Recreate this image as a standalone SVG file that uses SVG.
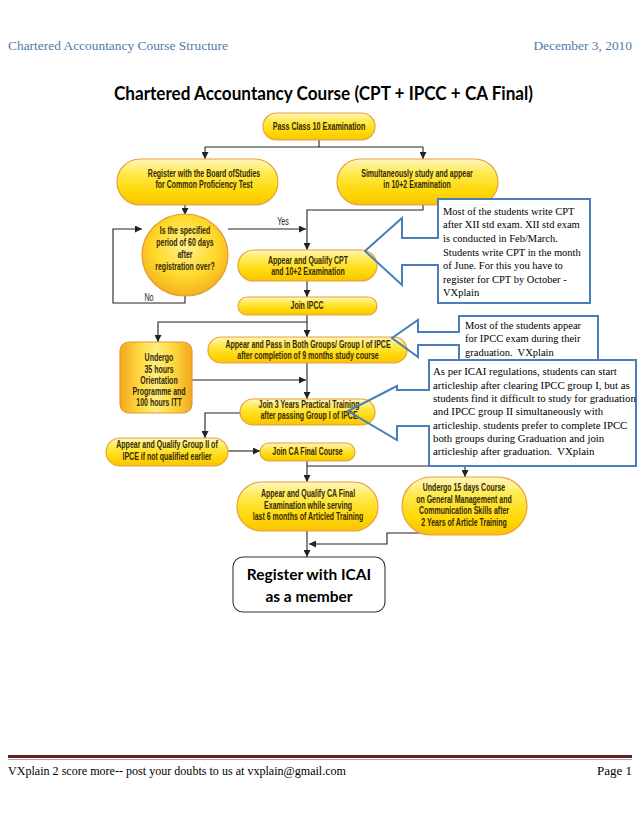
<svg xmlns="http://www.w3.org/2000/svg" width="638" height="826" viewBox="0 0 638 826">
<defs>
<linearGradient id="gy" x1="0" y1="0" x2="0" y2="1">
<stop offset="0" stop-color="#FFF6C0"/>
<stop offset="0.3" stop-color="#FFEA50"/>
<stop offset="0.75" stop-color="#FFD600"/>
<stop offset="1" stop-color="#F8C20A"/>
</linearGradient>
<radialGradient id="gc" cx="0.5" cy="0.4" r="0.6">
<stop offset="0" stop-color="#FFF090"/>
<stop offset="0.6" stop-color="#FFD92A"/>
<stop offset="1" stop-color="#F4B020"/>
</radialGradient>
<linearGradient id="gh" x1="0" y1="0" x2="1" y2="0">
<stop offset="0" stop-color="#F3A81E"/>
<stop offset="0.3" stop-color="#FFDD45"/>
<stop offset="0.5" stop-color="#FFEC80"/>
<stop offset="0.7" stop-color="#FFDD45"/>
<stop offset="1" stop-color="#F3A81E"/>
</linearGradient>
<marker id="ah" viewBox="0 0 10 10" refX="10" refY="5" markerWidth="7" markerHeight="7" markerUnits="userSpaceOnUse" orient="auto">
<path d="M0,0 L10,5 L0,10 Z" fill="#222"/>
</marker>
<style>
.nd{fill:url(#gy);stroke:#E8A040;stroke-width:1.2}
.nt{font-family:"Liberation Sans",Arial,sans-serif;font-weight:bold;font-size:10px;fill:#33290C;text-anchor:middle}
.cn{fill:none;stroke:#222;stroke-width:1.1}
.ca{fill:none;stroke:#222;stroke-width:1.1;marker-end:url(#ah)}
.co{fill:none;stroke:#4A7EBB;stroke-width:2}
.cb{fill:#fff;stroke:none}
.ct{font-family:"Liberation Serif","Times New Roman",serif;font-size:10.5px;fill:#000}
.ct3{font-family:"Liberation Serif","Times New Roman",serif;font-size:10.8px;fill:#000}
.hd{font-family:"Liberation Serif",serif;font-size:13.4px;fill:#4F7AA8}
.ft{font-family:"Liberation Serif",serif;font-size:13px;fill:#000}
.lb{font-family:"Liberation Sans",Arial,sans-serif;font-size:10px;fill:#222;text-anchor:middle}
</style>
</defs>
<rect width="638" height="826" fill="#fff"/>

<text class="hd" x="8" y="50" textLength="220" lengthAdjust="spacingAndGlyphs">Chartered Accountancy Course Structure</text>
<text class="hd" x="632" y="50" text-anchor="end">December 3, 2010</text>
<text x="323.5" y="100" text-anchor="middle" font-family="Lato,'Liberation Sans',sans-serif" font-weight="bold" font-size="19" fill="#000" textLength="419" lengthAdjust="spacingAndGlyphs">Chartered Accountancy Course (CPT + IPCC + CA Final)</text>

<g id="connectors">
<path class="cn" d="M319,140 V147 M205,147 H423"/>
<path class="ca" d="M205,147 V159"/>
<path class="ca" d="M423,147 V159"/>
<path class="ca" d="M185,205 V215"/>
<path class="ca" d="M423,205 V210 H307 V250"/>
<path class="ca" d="M228,229 H306"/>
<path class="ca" d="M185,296 V303 H113 V229 H142"/>
<path class="ca" d="M307,281 V297"/>
<path class="ca" d="M307,315 V337"/>
<path class="ca" d="M307,322 H158 V342"/>
<path class="ca" d="M192,380 H306"/>
<path class="ca" d="M307,363 V399"/>
<path class="ca" d="M240,413 H205 V438"/>
<path class="ca" d="M228,451 H260"/>
<path class="ca" d="M307,461 V482"/>
<path class="ca" d="M307,466 H465 V477"/>
<path class="ca" d="M465,533 H387 V544 H309"/>
<path class="ca" d="M307,531 V557"/>
<text class="lb" transform="translate(283,0) scale(0.72,1)" x="0" y="225">Yes</text>
<text class="lb" transform="translate(149,0) scale(0.72,1)" x="0" y="301">No</text>
</g>

<g id="n1">
<rect class="nd" x="263" y="113" width="112" height="27" rx="13.5"/>
<g transform="translate(319,0) scale(0.72,1)">
<text class="nt" x="0" y="130.5">Pass Class 10 Examination</text>
</g>
</g>
<g id="n2">
<rect class="nd" x="117" y="159" width="161" height="46" rx="23"/>
<g transform="translate(204,0) scale(0.7,1)">
<text class="nt" x="0" y="177">Register with the Board ofStudies</text>
<text class="nt" x="0" y="188">for Common Proficiency Test</text>
</g>
</g>
<g id="n3">
<rect class="nd" x="337" y="159" width="161" height="46" rx="23"/>
<g transform="translate(417,0) scale(0.7,1)">
<text class="nt" x="0" y="177">Simultaneously study and appear</text>
<text class="nt" x="0" y="188">in 10+2 Examination</text>
</g>
</g>
<g id="n4">
<ellipse cx="185" cy="255" rx="43" ry="41" fill="url(#gc)" stroke="#E39A2A" stroke-width="1.2"/>
<g transform="translate(185,0) scale(0.7,1)">
<text class="nt" x="0" y="234">Is the specified</text>
<text class="nt" x="0" y="246">period of 60 days</text>
<text class="nt" x="0" y="258">after</text>
<text class="nt" x="0" y="270">registration over?</text>
</g>
</g>
<g id="n5">
<rect class="nd" x="238" y="250" width="139" height="31" rx="15.5"/>
<g transform="translate(308,0) scale(0.7,1)">
<text class="nt" x="0" y="264.5">Appear and Qualify CPT</text>
<text class="nt" x="0" y="275.5">and 10+2 Examination</text>
</g>
</g>
<g id="n6">
<rect class="nd" x="238" y="297" width="139" height="18" rx="9"/>
<g transform="translate(307,0) scale(0.7,1)">
<text class="nt" x="0" y="309.5">Join IPCC</text>
</g>
</g>
<g id="n7">
<rect class="nd" x="208" y="337" width="199" height="26" rx="13"/>
<g transform="translate(308,0) scale(0.7,1)">
<text class="nt" x="0" y="348.5">Appear and Pass in Both Groups/ Group I of IPCE</text>
<text class="nt" x="0" y="359.5">after completion of 9 months study course</text>
</g>
</g>
<g id="n8">
<rect x="120" y="342" width="72" height="71" rx="9" fill="url(#gh)" stroke="#E39A2A" stroke-width="1.2"/>
<g transform="translate(159,0) scale(0.7,1)">
<text class="nt" x="0" y="361.5">Undergo</text>
<text class="nt" x="0" y="373.5">35 hours</text>
<text class="nt" x="0" y="384.5">Orientation</text>
<text class="nt" x="0" y="395.5">Programme and</text>
<text class="nt" x="0" y="406.5">100 hours ITT</text>
</g>
</g>
<g id="n9">
<rect class="nd" x="240" y="399" width="135" height="26" rx="13"/>
<g transform="translate(309,0) scale(0.7,1)">
<text class="nt" x="0" y="408.5">Join 3 Years Practical Training</text>
<text class="nt" x="0" y="419.5">after passing Group I of IPCE</text>
</g>
</g>
<g id="n10">
<rect class="nd" x="106" y="438" width="122" height="28" rx="14"/>
<g transform="translate(167,0) scale(0.7,1)">
<text class="nt" x="0" y="448.5">Appear and Qualify Group II of</text>
<text class="nt" x="0" y="460">IPCE if not qualified earlier</text>
</g>
</g>
<g id="n11">
<rect class="nd" x="260" y="443" width="95" height="18" rx="9"/>
<g transform="translate(307.5,0) scale(0.7,1)">
<text class="nt" x="0" y="455.5">Join CA Final Course</text>
</g>
</g>
<g id="n12">
<rect class="nd" x="237" y="482" width="141" height="49" rx="24.5"/>
<g transform="translate(308,0) scale(0.7,1)">
<text class="nt" x="0" y="497.5">Appear and Qualify CA Final</text>
<text class="nt" x="0" y="509">Examination while serving</text>
<text class="nt" x="0" y="520.5">last 6 months of Articled Training</text>
</g>
</g>
<g id="n13">
<rect class="nd" x="402" y="477" width="125" height="58" rx="29"/>
<g transform="translate(464,0) scale(0.7,1)">
<text class="nt" x="0" y="491.5">Undergo 15 days Course</text>
<text class="nt" x="0" y="503">on General Management and</text>
<text class="nt" x="0" y="514.5">Communication Skills after</text>
<text class="nt" x="0" y="526">2 Years of Article Training</text>
</g>
</g>
<g id="n14">
<rect x="233" y="557" width="152" height="55" rx="10" fill="#fff" stroke="#333" stroke-width="1.1"/>
<text x="309" y="580" text-anchor="middle" font-family="Lato,'Liberation Sans',sans-serif" font-weight="bold" font-size="15.5" fill="#000">Register with ICAI</text>
<text x="309" y="602" text-anchor="middle" font-family="Lato,'Liberation Sans',sans-serif" font-weight="bold" font-size="15.5" fill="#000">as a member</text>
</g>

<g id="callout1">
<rect class="cb" x="438" y="199" width="152" height="104"/>
<path class="co" d="M438,199 H590 V303 H438 V265 H402 V285 L365,251 L402,218 V238 H438 Z"/>
<text class="ct" x="443" y="214.7">Most of the students write CPT</text>
<text class="ct" x="443" y="228.3">after XII std exam. XII std exam</text>
<text class="ct" x="443" y="241.9">is conducted in Feb/March.</text>
<text class="ct" x="443" y="255.5">Students write CPT in the month</text>
<text class="ct" x="443" y="269.1">of June. For this you have to</text>
<text class="ct" x="443" y="282.7">register for CPT by October -</text>
<text class="ct" x="443" y="296.3">VXplain</text>
</g>
<g id="callout2">
<rect class="cb" x="459" y="316" width="139" height="46"/>
<path class="co" d="M459,316 H598 V362 H459 V345 H418 V357 L392,338 L418,320 V332 H459 Z"/>
<text class="ct" x="465" y="328.5">Most of the students appear</text>
<text class="ct" x="465" y="342">for IPCC exam during their</text>
<text class="ct" x="465" y="355.5" xml:space="preserve">graduation.  VXplain</text>
</g>
<g id="callout3">
<rect class="cb" x="429" y="360" width="207" height="106"/>
<path class="co" d="M429,360 H636 V466 H429 V426 H397 V440 L348,411 L397,386 V390 H429 Z"/>
<text class="ct3" x="433" y="375.4">As per ICAI regulations, students can start</text>
<text class="ct3" x="433" y="388.7">articleship after clearing IPCC group I, but as</text>
<text class="ct3" x="433" y="402">students find it difficult to study for graduation</text>
<text class="ct3" x="433" y="415.4">and IPCC group II simultaneously with</text>
<text class="ct3" x="433" y="428.7">articleship. students prefer to complete IPCC</text>
<text class="ct3" x="433" y="442">both groups during Graduation and join</text>
<text class="ct3" x="433" y="455.4" xml:space="preserve">articleship after graduation.  VXplain</text>
</g>

<rect x="8" y="755" width="624" height="3" fill="#622423"/>
<line x1="8" y1="759.5" x2="632" y2="759.5" stroke="#C8A0A0" stroke-width="1"/>
<text class="ft" x="8" y="775" textLength="338" lengthAdjust="spacingAndGlyphs">VXplain 2 score more-- post your doubts to us at vxplain@gmail.com</text>
<text class="ft" x="632" y="775" text-anchor="end">Page 1</text>
</svg>
